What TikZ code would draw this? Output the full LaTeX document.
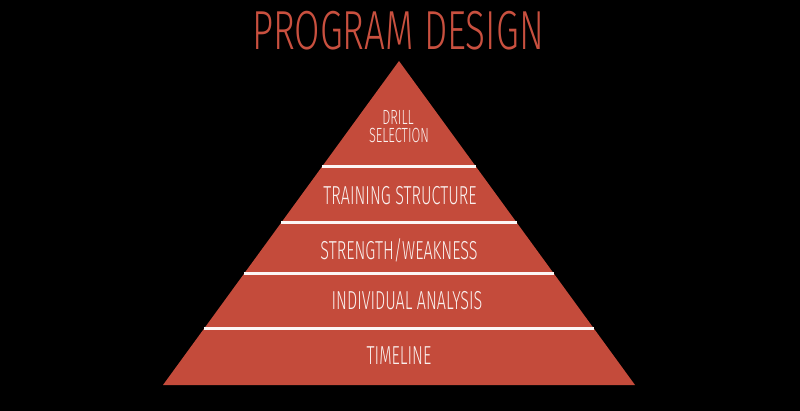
\documentclass[tikz,border=0pt]{standalone}
\usepackage{fontspec}
\newfontfamily\thinfont{Fira Sans Light}[FakeStretch=0.62]
\newfontfamily\headfont{Fira Sans Light}[FakeStretch=0.67]
\usetikzlibrary{calc}
\definecolor{brick}{HTML}{C44B3B}
\definecolor{titlered}{HTML}{C9503F}
\tikzset{
  layer/.style={text=white!92!brick, font=\thinfont\fontsize{26}{26}\selectfont, inner sep=0pt, anchor=center},
  toplayer/.style={layer, font=\thinfont\fontsize{19.5}{19.5}\selectfont, text height=13.5pt, text depth=0pt},
  divider/.style={draw=white!95!brick, line width=3pt}
}
\begin{document}
\begin{tikzpicture}[x=1pt, y=-1pt]

            \fill[black] (0,0) rectangle (800,411);
            \useasboundingbox (0,0) rectangle (800,411);

            \node[text=titlered, font=\headfont\fontsize{55}{55}\selectfont, inner sep=0pt] (title) at (398,31) {PROGRAM DESIGN};

            \coordinate (apex) at (399,61);
            \coordinate (left) at (163,385);
            \coordinate (right) at (635,385);
            \fill[brick] (apex) -- (left) -- (right) -- cycle;

            \draw[divider] ($(apex)!0.327!(left)$) -- ($(apex)!0.327!(right)$);
            \draw[divider] ($(apex)!0.500!(left)$) -- ($(apex)!0.500!(right)$);
            \draw[divider] ($(apex)!0.657!(left)$) -- ($(apex)!0.657!(right)$);
            \draw[divider] ($(apex)!0.827!(left)$) -- ($(apex)!0.827!(right)$);

            \node[toplayer, font=\thinfont\fontsize{20.5}{20.5}\selectfont] (drill) at (398,118) {DRILL};
            \node[toplayer, font=\thinfont\fontsize{20.5}{20.5}\selectfont] (selection) at (399,136) {SELECTION};
            \node[layer] (structure) at (400,196) {TRAINING STRUCTURE};
            \node[layer] (strength) at (399,250) {STRENGTH/WEAKNESS};
            \node[layer] (analysis) at (407,301) {INDIVIDUAL ANALYSIS};
            \node[layer] (timeline) at (399,356) {TIMELINE};
        \end{tikzpicture}
\end{document}
